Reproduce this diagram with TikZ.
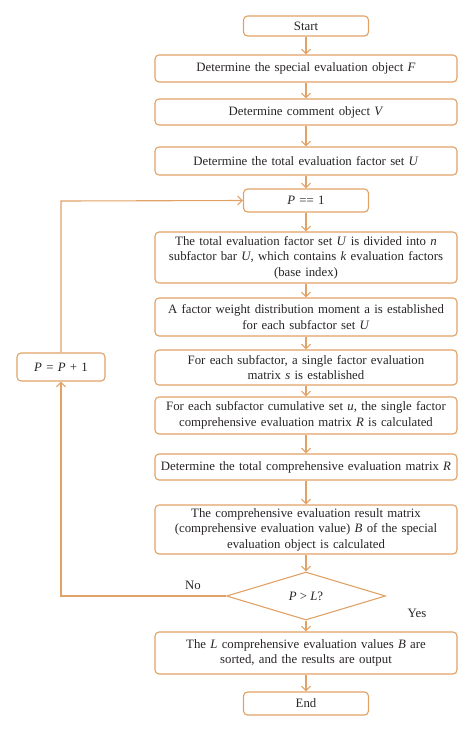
\documentclass[tikz,border=0pt]{standalone}
\usepackage{fontspec}
\setmainfont{Liberation Serif}
\usetikzlibrary{shapes.geometric,arrows.meta}
\definecolor{lineor}{RGB}{224,162,102}
\definecolor{txt}{RGB}{40,36,36}
\tikzset{
  box/.style={draw=lineor,line width=1.1pt,rounded corners=4pt,minimum width=302pt,inner sep=1pt,text width=298pt,align=center,text=txt,font=\fontsize{12.8}{15.5}\selectfont},
  sbox/.style={box,minimum width=125pt,text width=119pt},
  dia/.style={draw=lineor,line width=1.1pt,diamond,minimum width=159pt,minimum height=48pt,inner sep=0pt,text=txt,font=\fontsize{12.8}{15.5}\selectfont},
  arr/.style={draw=lineor,line width=1.1pt,-{Straight Barb[length=4.5pt,width=9pt]}},
  lbl/.style={text=txt,font=\fontsize{12.8}{15.5}\selectfont}
}
\begin{document}
\begin{tikzpicture}[x=1pt,y=-1pt]
\useasboundingbox (0,0) rectangle (474,732);
\node[sbox,minimum height=20pt] (start) at (306,26) {Start};
\node[box,minimum height=27pt] (b2) at (306,68.5) {Determine the special evaluation object \textit{F}};
\node[box,minimum height=26pt] (b3) at (306,112) {Determine comment object \textit{V}};
\node[box,minimum height=28pt] (b4) at (306,161) {Determine the total evaluation factor set \textit{U}};
\node[sbox,minimum height=23pt] (p1) at (306,200.5) {\textit{P} == 1};
\node[box,minimum height=51pt] (b6) at (306,257.5) {The total evaluation factor set \textit{U} is divided into \textit{n}\\ subfactor bar \textit{U}, which contains \textit{k} evaluation factors\\ (base index)};
\node[box,minimum height=38pt] (b7) at (306,317) {A factor weight distribution moment a is established\\ for each subfactor set \textit{U}};
\node[box,minimum height=35pt] (b8) at (306,367.5) {For each subfactor, a single factor evaluation\\ matrix \textit{s} is established};
\node[box,minimum height=37pt] (b9) at (306,415.5) {For each subfactor cumulative set \textit{u}, the single factor\\ comprehensive evaluation matrix \textit{R} is calculated};
\node[box,minimum height=26pt] (b10) at (306,467) {Determine the total comprehensive evaluation matrix \textit{R}};
\node[box,minimum height=49pt] (b11) at (306,529.5) {The comprehensive evaluation result matrix\\ (comprehensive evaluation value) \textit{B} of the special\\ evaluation object is calculated};
\node[dia] (d) at (306,596) {\textit{P} > \textit{L}?};
\node[box,minimum height=42pt] (b12) at (306,653) {The \textit{L} comprehensive evaluation values \textit{B} are\\ sorted, and the results are output};
\node[sbox,minimum height=23pt] (end) at (306,703.5) {End};
\node[box,minimum width=88pt,text width=84pt,minimum height=28pt] (pp) at (61,367) {\textit{P} = \textit{P} + 1};
\coordinate (c1) at (61,596);
\coordinate (c2) at (61,201);
\draw[arr] (start) -- (b2);
\draw[arr] (b2) -- (b3);
\draw[arr] (b3) -- (b4);
\draw[arr] (b4) -- (p1);
\draw[arr] (p1) -- (b6);
\draw[arr] (b6) -- (b7);
\draw[arr] (b7) -- (b8);
\draw[arr] (b8) -- (b9);
\draw[arr] (b9) -- (b10);
\draw[arr] (b10) -- (b11);
\draw[arr] (b11) -- (d);
\draw[arr] (d) -- (b12);
\draw[arr] (b12) -- (end);
\draw[arr] (d.west) -- (c1) -- (pp.south);
\draw[arr] (pp.north) -- (c2) -- (p1.west);
\node[lbl] (no) at (193,585) {No};
\node[lbl] (yes) at (417,613) {Yes};
\end{tikzpicture}
\end{document}
